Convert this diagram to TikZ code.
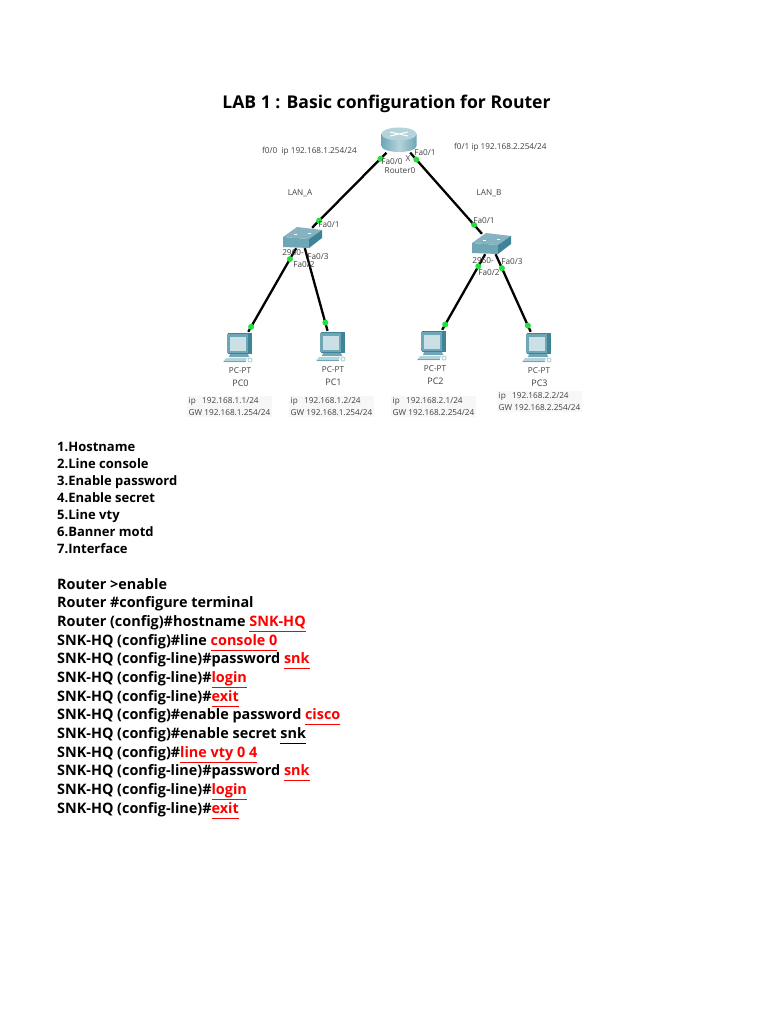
\documentclass[tikz,border=0pt]{standalone}
\usepackage{fontspec}
\setmainfont{Open Sans}
\definecolor{devdark}{HTML}{3F8496}
\definecolor{devmid}{HTML}{6FA6B6}
\definecolor{devlight}{HTML}{B5D3DB}
\definecolor{portgreen}{HTML}{22E03C}
\newcommand{\lineunder}[1]{\underline{\vphantom{g}\smash{#1}}}
\newcommand{\redcmd}[1]{\textcolor{red}{\lineunder{#1}}}
\tikzset{
  link/.style={black,line width=2.3pt},
  port/.style={fill=portgreen,circle,inner sep=0pt,minimum size=6pt},
  devbox/.style={inner sep=0pt,minimum width=36pt,minimum height=25pt},
  swbox/.style={inner sep=0pt,minimum width=40pt,minimum height=20pt},
  pcbox/.style={inner sep=0pt,minimum width=30pt,minimum height=32pt},
  small/.style={font=\fontsize{8.2}{10}\selectfont,text=black!75,inner sep=0pt},
  addr/.style={small,align=left,anchor=north west,fill=black!3,inner sep=1.5pt,font=\fontsize{8.2}{11.6}\selectfont},
  listline/.style={anchor=base west,inner sep=0pt,font=\fontsize{13}{15}\selectfont\bfseries},
  cmdline/.style={anchor=base west,inner sep=0pt,font=\fontsize{14.4}{17}\selectfont\bfseries},
  routericon/.pic={
    \shade[left color=devmid,right color=devmid,middle color=devlight] (-17.5,-6) -- (-17.5,6) arc[start angle=180,end angle=0,x radius=17.5,y radius=6] -- (17.5,-6) -- cycle;
    \fill[devlight] (0,-6) ellipse[x radius=17.5,y radius=6.5];
    \draw[white,line width=1pt] (-9,-8) -- (9,-4) (-9,-4) -- (9,-8);
  },
  switchicon/.pic={
    \fill[devmid!85!white] (-19,-1) -- (-5,-11) -- (20,-8) -- (7,1) -- cycle;
    \fill[devmid] (-19,-1) -- (7,1) -- (7,10) -- (-19,9) -- cycle;
    \fill[devdark] (7,1) -- (20,-8) -- (20,0) -- (7,10) -- cycle;
    \draw[white,line width=.5pt] (-8,-4) -- (-5,-4) (6,-5) -- (9,-5);
  },
  pcicon/.pic={
    \fill[devdark] (-11,-15) -- (13,-15) -- (13,6) -- (-11,6) -- cycle;
    \fill[devmid] (-12,-14) -- (9,-14) -- (9,5) -- (-12,5) -- cycle;
    \fill[devlight!70!white] (-9.5,-11.5) rectangle (6.5,2.5);
    \fill[devmid] (-9,6) -- (9,6) -- (10,9) -- (-10,9) -- cycle;
    \fill[devlight] (-13,10) -- (8,10) -- (6,14) -- (-16,14) -- cycle;
    \draw[devmid,line width=.8pt] (-15,13.5) -- (7,13.5);
    \draw[devlight,line width=1pt] (11,12) circle[radius=2];
  },
}
\begin{document}
\begin{tikzpicture}[x=1pt,y=-1pt]
\useasboundingbox (0,0) rectangle (768,1024);
\fill[white] (0,0) rectangle (768,1024);

% title
\node[inner sep=0pt,font=\fontsize{17.6}{20}\selectfont\bfseries] (title) at (386.5,104) {LAB 1 : Basic configuration for Router};

% devices
\node[devbox] (router0) at (399,140) {};
\node[swbox] (sw0) at (302,238) {};
\node[swbox] (sw1) at (491,244) {};
\foreach \name/\x/\y in {pc0/239/348,pc1/332/347,pc2/433/346,pc3/538/348}
  \node[pcbox] (\name) at (\x,\y) {};

% links with their green ports
\draw[link] (router0) -- node[port,pos=.08] (portA) {} node[port,pos=.905] (portB) {} (sw0);
\draw[link] (router0) -- node[port,pos=.085] (portC) {} node[port,pos=.89] (portD) {} (sw1);
\draw[link] (sw0) -- node[port,pos=.13] (portE) {} node[port,pos=.94] (portF) {} (pc0);
\draw[link] (sw0) -- node[port,pos=.9] (portG) {} (pc1);
\draw[link] (sw1) -- node[port,pos=.16] (portH) {} node[port,pos=.93] (portI) {} (pc2);
\draw[link] (sw1) -- node[port,pos=.18] (portJ) {} node[port,pos=.92] (portK) {} (pc3);

% icons
\pic at (router0) {routericon};
\pic at (sw0) {switchicon};
\pic at (sw1) {switchicon};
\foreach \name in {pc0,pc1,pc2,pc3}
  \pic at (\name) {pcicon};

% labels on the network
\node[small,anchor=west] (ipA) at (262,151) {f0/0\ \ ip 192.168.1.254/24};
\node[small,anchor=west] (ipB) at (454,147) {f0/1 ip 192.168.2.254/24};
\node[small] (lanA) at (300,193) {LAN\_A};
\node[small] (lanB) at (489,193) {LAN\_B};
\node[small] (fa00) at (392,162) {Fa0/0};
\node[small] (fa01) at (425,153) {Fa0/1};
\node[small] (markX) at (408,159) {X};
\node[small] (rname) at (400,171) {Router0};
\node[small] (swAa) at (329,225) {Fa0/1};
\node[small] (swAb) at (293,253) {2960-};
\node[small] (swAc) at (318,257) {Fa0/3};
\node[small] (swAd) at (304,265) {Fa0/2};
\node[small] (swBa) at (484,221) {Fa0/1};
\node[small] (swBb) at (483,261) {2960-};
\node[small] (swBc) at (512,262) {Fa0/3};
\node[small] (swBd) at (489,273) {Fa0/2};
\foreach \i/\x/\y in {0/240/371,1/333/370,2/435/369,3/539/371}{
  \node[small] (pt\i) at (\x,\y) {PC-PT};
  \node[small,font=\fontsize{9}{10}\selectfont] (pcname\i) at (\x+.5,\y+12) {PC\i};
}

% addresses
\node[addr] (addr0) at (187,396) {ip\ \ \ 192.168.1.1/24\\GW 192.168.1.254/24};
\node[addr] (addr1) at (289,396) {ip\ \ \ 192.168.1.2/24\\GW 192.168.1.254/24};
\node[addr] (addr2) at (391,396) {ip\ \ \ 192.168.2.1/24\\GW 192.168.2.254/24};
\node[addr] (addr3) at (497,391) {ip\ \ \ 192.168.2.2/24\\GW 192.168.2.254/24};

% list
\foreach \txt [count=\i] in {1.Hostname,2.Line console,3.Enable password,4.Enable secret,5.Line vty,6.Banner motd,7.Interface}
  \node[listline] (item\i) at (57,{451+(\i-1)*17.05}) {\txt};

% commands
\foreach \txt [count=\i] in {
  {Router >enable},
  {Router \#configure terminal},
  {Router (config)\#hostname \redcmd{SNK-HQ}},
  {SNK-HQ (config)\#line \redcmd{console 0}},
  {SNK-HQ (config-line)\#password \redcmd{snk}},
  {SNK-HQ (config-line)\#\redcmd{login}},
  {SNK-HQ (config-line)\#\redcmd{exit}},
  {SNK-HQ (config)\#enable password \redcmd{cisco}},
  {SNK-HQ (config)\#enable secret \lineunder{snk}},
  {SNK-HQ (config)\#\redcmd{line vty 0 4}},
  {SNK-HQ (config-line)\#password \redcmd{snk}},
  {SNK-HQ (config-line)\#\redcmd{login}},
  {SNK-HQ (config-line)\#\redcmd{exit}}}
  \node[cmdline] (cmd\i) at (57,{589+(\i-1)*18.67}) {\txt};
\end{tikzpicture}
\end{document}
